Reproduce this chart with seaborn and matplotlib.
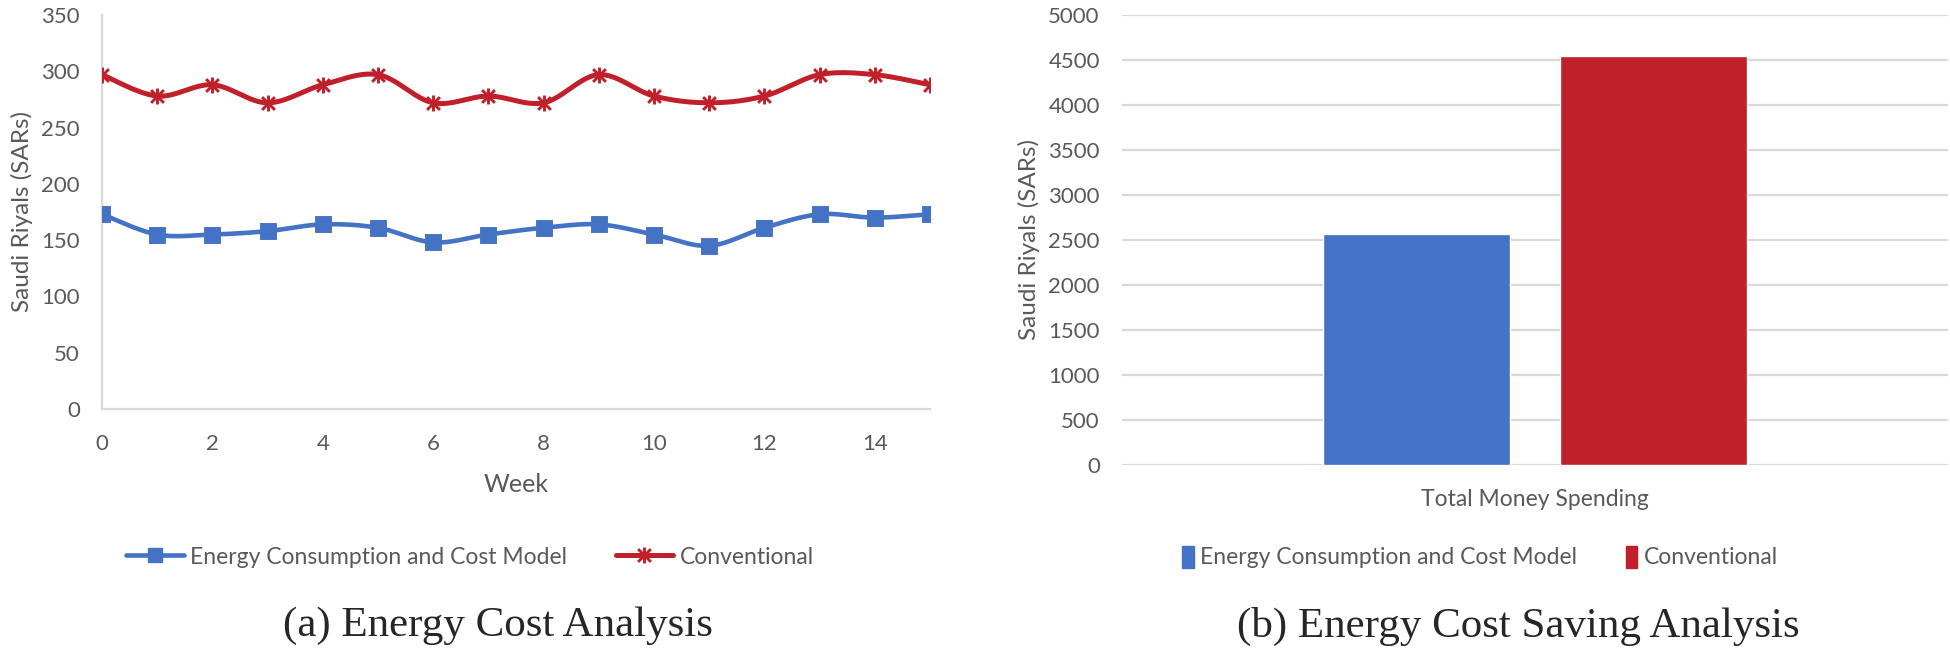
import numpy as np
import pandas as pd
import matplotlib
matplotlib.use("Agg")
import matplotlib.pyplot as plt
import seaborn as sns
from matplotlib.path import Path
from matplotlib.lines import Line2D
from matplotlib.patches import Patch

# data
weeks = list(range(16))
model_cost = [173, 155, 155, 158, 164, 161, 148, 155, 161, 164, 155, 145, 161, 173, 170, 173]
conventional_cost = [297, 278, 288, 272, 288, 297, 272, 278, 272, 297, 278, 272, 278, 297, 297, 288]
series_names = ["Energy Consumption and Cost Model", "Conventional"]
bar_category = "Total Money Spending"
bar_totals = [2570, 4545]

BLUE = "#4472C4"
RED = "#C0202A"
GRID = "#D9D9D9"
TXT = "#595959"

sns.set_style("white")
plt.rcParams["font.family"] = ["Lato", "DejaVu Sans"]


def smooth_curve(x, y, n=24):
    # catmull-rom, like the "smoothed line" option of a spreadsheet chart
    x = np.asarray(x, float)
    y = np.asarray(y, float)
    px = np.concatenate([[x[0]], x, [x[-1]]])
    py = np.concatenate([[y[0]], y, [y[-1]]])
    xs, ys = [], []
    t = np.linspace(0, 1, n, endpoint=False)
    for i in range(1, len(px) - 2):
        for p, out in ((px, xs), (py, ys)):
            p0, p1, p2, p3 = p[i - 1], p[i], p[i + 1], p[i + 2]
            m1 = (p2 - p0) / 2
            m2 = (p3 - p1) / 2
            h00 = 2 * t**3 - 3 * t**2 + 1
            h10 = t**3 - 2 * t**2 + t
            h01 = -2 * t**3 + 3 * t**2
            h11 = t**3 - t**2
            out.extend(h00 * p1 + h10 * m1 + h01 * p2 + h11 * m2)
    xs.append(x[-1])
    ys.append(y[-1])
    return np.array(xs), np.array(ys)


star = Path([(-1, -1), (1, 1), (-1, 1), (1, -1), (0, -1.25), (0, 1.25)],
            [Path.MOVETO, Path.LINETO, Path.MOVETO, Path.LINETO, Path.MOVETO, Path.LINETO])

fig = plt.figure(figsize=(19.5, 6.51), dpi=100)
ax1 = fig.add_axes([102 / 1950, 1 - 409 / 651, 828 / 1950, 394 / 651])
ax2 = fig.add_axes([1122 / 1950, 1 - 465 / 651, 826 / 1950, 450 / 651])

# (a) weekly cost lines
for vals, col, mk, ms, lw in ((model_cost, BLUE, "s", 10, 3.3), (conventional_cost, RED, star, 11.5, 3.6)):
    sx, sy = smooth_curve(weeks, vals)
    ax1.plot(sx, sy, color=col, lw=lw, solid_capstyle="round", zorder=2)
    sns.lineplot(x=weeks, y=vals, ax=ax1, marker=mk, markersize=ms, color=col,
                 markerfacecolor=col, markeredgecolor=col, markeredgewidth=2.1,
                 linestyle="none", zorder=3)

ax1.set_xlim(0, 15)
ax1.set_ylim(0, 350)
ax1.set_xticks(range(0, 15, 2))
ax1.set_yticks(range(0, 351, 50))
for s in ("top", "right"):
    ax1.spines[s].set_visible(False)
for s in ("left", "bottom"):
    ax1.spines[s].set_color(GRID)
    ax1.spines[s].set_linewidth(1.6)
ax1.tick_params(axis="both", length=0, labelsize=16, labelcolor=TXT)
ax1.tick_params(axis="y", pad=16)
ax1.tick_params(axis="x", pad=18)
ax1.set_xlabel("Week", fontsize=18, color=TXT, labelpad=14)
ax1.set_ylabel("Saudi Riyals (SARs)", fontsize=17.5, color=TXT, labelpad=6)

# (b) total spending bars
bar_df = pd.DataFrame({"category": [bar_category] * 2, "series": series_names, "total": bar_totals})
sns.barplot(data=bar_df, x="category", y="total", hue="series", palette=[BLUE, RED],
            hue_order=series_names, width=0.576, gap=0.214, saturation=1, ax=ax2,
            legend=False, zorder=3)
ax2.set_ylim(0, 5000)
ax2.set_yticks(range(0, 5001, 500))
ax2.yaxis.grid(True, color=GRID, lw=1.6)
ax2.set_axisbelow(True)
for s in ax2.spines.values():
    s.set_visible(False)
ax2.tick_params(axis="both", length=0, labelsize=16, labelcolor=TXT)
ax2.tick_params(axis="x", labelsize=16.5, pad=17)
ax2.tick_params(axis="y", pad=16)
ax2.set_xlabel("")
ax2.set_ylabel("Saudi Riyals (SARs)", fontsize=17.5, color=TXT, labelpad=6)

# legends
line_handles = [
    Line2D([], [], color=BLUE, lw=3.3, marker="s", markersize=10),
    Line2D([], [], color=RED, lw=3.6, marker=star, markersize=11.5, markeredgewidth=2.1),
]
leg1 = fig.legend(line_handles, series_names, loc="center", bbox_to_anchor=(470 / 1950, 1 - 557 / 651),
                  ncol=2, frameon=False, fontsize=16.5, handlelength=2.5, handletextpad=0.3,
                  columnspacing=2.1)
bar_handles = [Patch(color=BLUE), Patch(color=RED)]
leg2 = fig.legend(bar_handles, series_names, loc="center", bbox_to_anchor=(1480 / 1950, 1 - 557 / 651),
                  ncol=2, frameon=False, fontsize=16.5, handlelength=0.5, handleheight=1.1,
                  handletextpad=0.3, columnspacing=2.1)
for leg in (leg1, leg2):
    for t in leg.get_texts():
        t.set_color(TXT)

fig.text(498 / 1950, 1 - 626 / 651, "(a) Energy Cost Analysis", ha="center", va="center",
         fontsize=31, family="Liberation Serif")
fig.text(1518 / 1950, 1 - 626 / 651, "(b) Energy Cost Saving Analysis", ha="center", va="center",
         fontsize=31, family="Liberation Serif")

fig.savefig("out.png", dpi=100)
